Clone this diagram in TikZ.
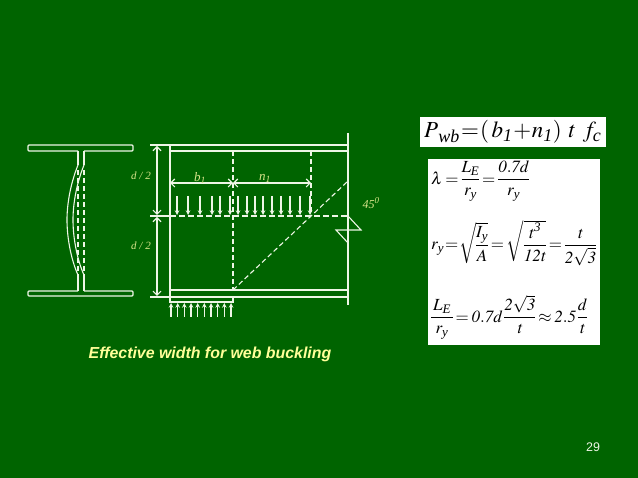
\documentclass[tikz,border=0pt]{standalone}
\usepackage{amsmath}
\usepackage{mathptmx}
\usepackage[no-math]{fontspec}
\setmainfont{Liberation Serif}
\newfontfamily\arialfont{Liberation Sans}
\usetikzlibrary{arrows}
\usetikzlibrary{arrows.meta}
\definecolor{slidegreen}{HTML}{006400}
\definecolor{sketchline}{HTML}{EEF6E6}
\definecolor{dimlabel}{HTML}{D8E48A}
\definecolor{titleyellow}{HTML}{FFFF99}
\newcommand{\eqnsub}[1]{\text{\fontsize{13}{13}\selectfont\itshape #1}}
\newcommand{\loadsub}[1]{\text{\fontsize{18}{18}\selectfont\itshape #1}}
\tikzset{
  sketch/.style={draw=sketchline, line width=1.1pt},
  cutline/.style={sketch, dash pattern=on 5pt off 3pt},
  dimline/.style={sketch, <->, >={Straight Barb[length=4pt,width=8pt]}},
  dimlabeltext/.style={text=dimlabel, font=\fontsize{11}{13}\selectfont\itshape},
  eqn/.style={text=black, anchor=west, inner sep=0pt, font=\fontsize{17}{20}\selectfont}
}
\thickmuskip=3mu
\nulldelimiterspace=0pt
\begin{document}
\begin{tikzpicture}[x=1pt,y=-1pt]
        \useasboundingbox (0,0) rectangle (638,478);
        \fill[slidegreen] (0,0) rectangle (638,478);

        % Left section, top flange
        \draw[sketch, rounded corners=1pt] (78,151)--(28,151)--(28,145)--(133,145)--(133,151)--(84,151);
        % Left section, bottom flange
        \draw[sketch, rounded corners=1pt] (78,291)--(28,291)--(28,296)--(133,296)--(133,291)--(84,291);

        % Web stubs
        \draw[sketch] (78,151)--(78,165);
        \draw[sketch] (84,151)--(84,165);
        \draw[sketch] (78,275)--(78,291);
        \draw[sketch] (84,275)--(84,291);

        % Buckled web
        \draw[sketch] (78,165) .. controls (70,185) and (67,205) .. (67,220) .. controls (67,240) and (72,262) .. (78,275);
        \draw[sketch] (84,165) .. controls (76,185) and (73,205) .. (73,220) .. controls (73,240) and (78,262) .. (84,275);

        % Straight web
        \draw[cutline] (78,170)--(78,275);
        \draw[cutline] (84,170)--(84,275);

        % Beam flanges
        \draw[sketch] (150,145)--(348,145);
        \draw[sketch] (170,151)--(348,151);
        \draw[sketch] (170,290)--(348,290);
        \draw[sketch] (150,297)--(348,297);
        \draw[sketch] (170,145)--(170,297);

        % Beam end and break mark
        \draw[sketch] (348,133)--(348,305);
        \draw[sketch] (348,216)--(361,230)--(336,230)--(348,243);

        % Bearing plate
        \draw[sketch, line width=1.4pt] (170,297)--(170,302)--(233,302)--(233,297);

        % Dashed lines
        \draw[cutline] (233,151)--(233,290);
        \draw[cutline, line width=1.6pt] (311,151)--(311,216);
        \draw[sketch, dash pattern=on 6pt off 3pt] (170,216)--(348,216);
        \draw[cutline] (233,290)--(348,181);

        % Half depth dimensions
        \draw[sketch] (150,216)--(170,216);
        \draw [dimline] (157,146)--(157,215);
        \draw [dimline] (157,217)--(157,296);
        \draw (141,176) node (halfupper) [dimlabeltext] {d / 2};
        \draw (141,246) node (halflower) [dimlabeltext] {d / 2};

        % Bearing and dispersion lengths
        \draw [dimline] (170,183)--(233,183);
        \draw [dimline] (233,183)--(311,183);
        \draw (200,178) node (blabel) [dimlabeltext, font=\fontsize{13}{15}\selectfont\itshape] {b\textsubscript{1}};
        \draw (265,178) node (nlabel) [dimlabeltext, font=\fontsize{13}{15}\selectfont\itshape] {n\textsubscript{1}};

        % Spread angle
        \draw (371,203) node (anglelabel) [dimlabeltext, font=\fontsize{12}{14}\selectfont\itshape] {45\textsuperscript{0}};

        % Load on the top flange
        \draw [sketch,->,>=stealth] (177,196)--(177,215);  \draw [sketch,->,>=stealth] (188,196)--(188,215);
        \draw [sketch,->,>=stealth] (200,196)--(200,215);  \draw [sketch,->,>=stealth] (212,196)--(212,215);
        \draw [sketch,->,>=stealth] (220,196)--(220,215);  \draw [sketch,->,>=stealth] (230,196)--(230,215);
        \draw [sketch,->,>=stealth] (238,196)--(238,215);  \draw [sketch,->,>=stealth] (247,196)--(247,215);
        \draw [sketch,->,>=stealth] (255,196)--(255,215);  \draw [sketch,->,>=stealth] (263,196)--(263,215);
        \draw [sketch,->,>=stealth] (272,196)--(272,215);  \draw [sketch,->,>=stealth] (281,196)--(281,215);
        \draw [sketch,->,>=stealth] (290,196)--(290,215);  \draw [sketch,->,>=stealth] (300,196)--(300,215);
        \draw [sketch,->,>=stealth] (310,196)--(310,215);

        % Reaction under the plate
        \draw [sketch,->,>=stealth] (171,317)--(171,303);  \draw [sketch,->,>=stealth] (177.7,317)--(177.7,303);
        \draw [sketch,->,>=stealth] (184.3,317)--(184.3,303);  \draw [sketch,->,>=stealth] (191,317)--(191,303);
        \draw [sketch,->,>=stealth] (197.7,317)--(197.7,303);  \draw [sketch,->,>=stealth] (204.3,317)--(204.3,303);
        \draw [sketch,->,>=stealth] (211,317)--(211,303);  \draw [sketch,->,>=stealth] (217.7,317)--(217.7,303);
        \draw [sketch,->,>=stealth] (224.3,317)--(224.3,303);  \draw [sketch,->,>=stealth] (231,317)--(231,303);

        % Caption and page number
        \draw (210,354) node (caption) [text=titleyellow, font=\fontsize{15.9}{18}\arialfont\bfseries\itshape] {Effective width for web buckling};
        \draw (593,447) node (pagenumber) [text=sketchline, font=\fontsize{12.5}{15}\arialfont] {29};

        % Formula boxes
        \fill[white] (420,117) rectangle (606,147);
        \fill[white] (428,159) rectangle (600,345);

        \draw (424,132) node (loadeqn) [eqn, font=\fontsize{23}{26}\selectfont] {$\mathit{P}_{\loadsub{wb}}\!=\!(\,\mathit{b}_{\loadsub{1}}\!+\!\mathit{n}_{\loadsub{1}})\;\,\mathit{t}\;\;\;\mathit{f}_{\loadsub{c}}$};
        \draw (431,181) node (lambdaeqn) [eqn] {$\lambda=\dfrac{\mathit{L}_{\eqnsub{E}}}{\mathit{r}_{\eqnsub{y}}}=\dfrac{\mathit{0.7d}}{\mathit{r}_{\eqnsub{y}}}$};
        \draw (431,243) node (radiuseqn) [eqn] {$\mathit{r}_{\eqnsub{y}}\!=\!\sqrt{\dfrac{\mathit{I}_{\eqnsub{y}}}{\mathit{A}}}=\sqrt{\dfrac{\mathit{t}^{\eqnsub{3}}}{\mathit{12t}}}=\dfrac{\mathit{t}}{\mathit{2}\sqrt{\mathit{3}}}$};
        \draw (431,317) node (ratioeqn) [eqn] {$\dfrac{\,\mathit{L}_{\eqnsub{E}}\,}{\mathit{r}_{\eqnsub{y}}}=\mathit{0.7d}\,\dfrac{\mathit{2}\sqrt{\mathit{3}}}{\mathit{t}}\approx\mathit{2.5}\,\dfrac{\mathit{d}}{\mathit{t}}$};

\end{tikzpicture}
\end{document}
